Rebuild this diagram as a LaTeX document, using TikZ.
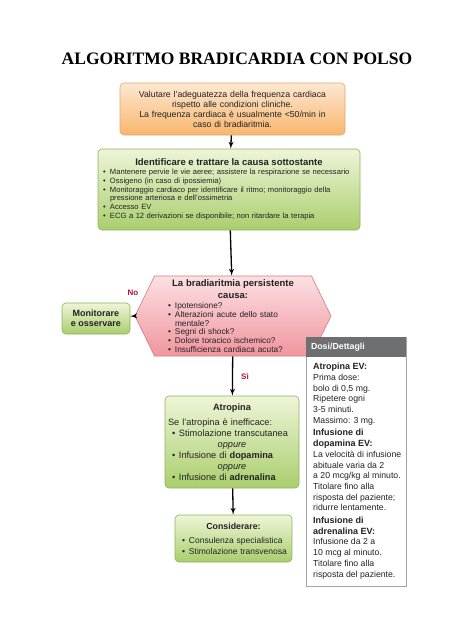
\documentclass[tikz,border=0pt]{standalone}
\usepackage{fontspec}
\setmainfont{Liberation Sans}
\newfontfamily\titlefont{Liberation Serif}
\usetikzlibrary{arrows,shapes.symbols}
\definecolor{orangetop}{HTML}{FDE8D2}
\definecolor{orangebot}{HTML}{F8B56C}
\definecolor{orangeline}{HTML}{E3A870}
\definecolor{greentop}{HTML}{EEF5D8}
\definecolor{greenbot}{HTML}{A9CE6D}
\definecolor{greenline}{HTML}{8FB35E}
\definecolor{pinktop}{HTML}{FCE0E3}
\definecolor{pinkbot}{HTML}{F0959E}
\definecolor{pinkline}{HTML}{D27C88}
\definecolor{headgray}{HTML}{6E6F71}
\definecolor{framegray}{HTML}{A3A3A3}
\definecolor{answerred}{HTML}{B3143F}
\definecolor{bodytext}{HTML}{222222}
% bullet line with hanging indent
\newlength{\bulletshift}
\newcommand{\itm}{\par\leftskip=\bulletshift\hangindent=7pt\hangafter=1\noindent\hbox to 7pt{\textbullet\hfil}}
\newcommand{\opp}{\par{\leftskip=0pt\centering\itshape oppure\par}}
\newcommand{\dosehead}[1]{{\bfseries\fontsize{9}{10.7}\selectfont #1}}
\begin{document}
\begin{tikzpicture}[x=1pt,y=-1pt]
    \tikzset{box/.style = {draw, rounded corners=4pt, line width=0.6pt, inner sep=3pt, align=left, text=bodytext}}
    \tikzset{orangebox/.style = {box, draw=orangeline, top color=orangetop, bottom color=orangebot}}
    \tikzset{greenbox/.style = {box, draw=greenline, top color=greentop, bottom color=greenbot}}
    \tikzset{hexbox/.style = {shape=signal, signal to=west and east, signal pointer angle=128, draw=pinkline, line width=0.6pt, top color=pinktop, bottom color=pinkbot, inner xsep=4pt, inner ysep=0pt, align=left, text=bodytext}}
    \tikzset{edge/.style = {->,> = latex', line width=1.3pt}}
    \tikzset{answer/.style = {text=answerred, font=\fontsize{8}{10}\selectfont\bfseries}}
    \path[fill=white] (0,0) rectangle (474,632);
    \useasboundingbox (0,0) rectangle (474,632);
    \node[font=\titlefont\fontsize{17.5}{20}\selectfont\bfseries] (title) at (237,59) {ALGORITMO BRADICARDIA CON POLSO};
    \node[orangebox, text width=219pt, minimum width=225pt, minimum height=52pt, align=center, font=\fontsize{8.7}{10}\selectfont] (check) at (232.5,109) {Valutare l'adeguatezza della frequenza cardiaca\\ rispetto alle condizioni cliniche.\\ La frequenza cardiaca è usualmente <50/min in\\ caso di bradiaritmia.};
    \node[greenbox, text width=254pt, minimum width=262pt, minimum height=81pt, font=\fontsize{7.6}{8.8}\selectfont] (cause) at (229,189.5) {{\centering\fontsize{9.5}{11}\selectfont\bfseries Identificare e trattare la causa sottostante\par}
        \setlength{\bulletshift}{1pt}
        \itm Mantenere pervie le vie aeree; assistere la respirazione se necessario
        \itm Ossigeno (in caso di ipossiemia)
        \itm Monitoraggio cardiaco per identificare il ritmo; monitoraggio della\newline pressione arteriosa e dell'ossimetria
        \itm Accesso EV
        \itm ECG a 12 derivazioni se disponibile; non ritardare la terapia\par};
    \node[hexbox, text width=140pt, minimum width=196pt, minimum height=80pt, font=\fontsize{8.3}{8.8}\selectfont] (brady) at (233,316) {{\centering\fontsize{9.5}{12.5}\selectfont\bfseries La bradiaritmia persistente\\ causa:\par}
        \vspace{1pt}
        \setlength{\bulletshift}{5pt}
        \itm Ipotensione?
        \itm Alterazioni acute dello stato\newline mentale?
        \itm Segni di shock?
        \itm Dolore toracico ischemico?
        \itm Insufficienza cardiaca acuta?\par};
    \node[greenbox, align=center, minimum width=68pt, minimum height=31pt, font=\fontsize{9}{10}\selectfont\bfseries] (monitor) at (96,318.5) {Monitorare\\ e osservare};
    \node[greenbox, text width=128pt, minimum width=134pt, minimum height=92pt, font=\fontsize{9.2}{10.9}\selectfont] (atropine) at (232,442) {{\centering\fontsize{9.2}{10}\selectfont\bfseries Atropina\par}
        \vspace{5pt}
        \setlength{\bulletshift}{4pt}
        Se l'atropina è inefficace:
        \itm Stimolazione transcutanea
        \opp
        \itm Infusione di \textbf{dopamina}
        \opp
        \itm Infusione di \textbf{adrenalina}\par};
    \node[greenbox, text width=111pt, minimum width=117pt, minimum height=47pt, font=\fontsize{8.5}{10.5}\selectfont] (consider) at (233.5,538.5) {{\centering\fontsize{8.8}{10}\selectfont\bfseries Considerare:\par}
        \vspace{4pt}
        \setlength{\bulletshift}{4pt}
        \itm Consulenza specialistica
        \itm Stimolazione transvenosa\par};
    % dosi e dettagli
    \node[draw=framegray, fill=white, line width=0.8pt, minimum width=100pt, minimum height=249pt] (dosi) at (356,461.5) {};
    \node[fill=headgray, text=white, minimum width=100pt, minimum height=20pt, text width=90pt, inner sep=5pt, font=\fontsize{8.8}{10}\selectfont\bfseries] (dosihead) at (356,347) {Dosi/Dettagli};
    \node[anchor=north west, inner sep=0pt, align=left, text=bodytext, font=\fontsize{8.7}{10.7}\selectfont] (dosetext) at (313,363) {\dosehead{Atropina EV:}\\
        Prima dose:\\ bolo di 0,5 mg.\\ Ripetere ogni\\ 3-5 minuti.\\ Massimo: 3 mg.\\[2pt]
        \dosehead{Infusione di}\\ \dosehead{dopamina EV:}\\
        La velocità di infusione\\ abituale varia da 2\\ a 20 mcg/kg al minuto.\\ Titolare fino alla\\ risposta del paziente;\\ ridurre lentamente.\\[2pt]
        \dosehead{Infusione di}\\ \dosehead{adrenalina EV:}\\
        Infusione da 2 a\\ 10 mcg al minuto.\\ Titolare fino alla\\ risposta del paziente.};
    \draw[edge] (check) to (cause);
    \draw[edge] (cause) to (brady);
    \draw[edge] (brady.west) to (monitor);
    \draw[edge] (brady) to (atropine);
    \draw[edge] (atropine) to (consider);
    \node[answer] (no) at (133,293) {No};
    \node[answer] (yes) at (245,377) {Sì};
\end{tikzpicture}
\end{document}
